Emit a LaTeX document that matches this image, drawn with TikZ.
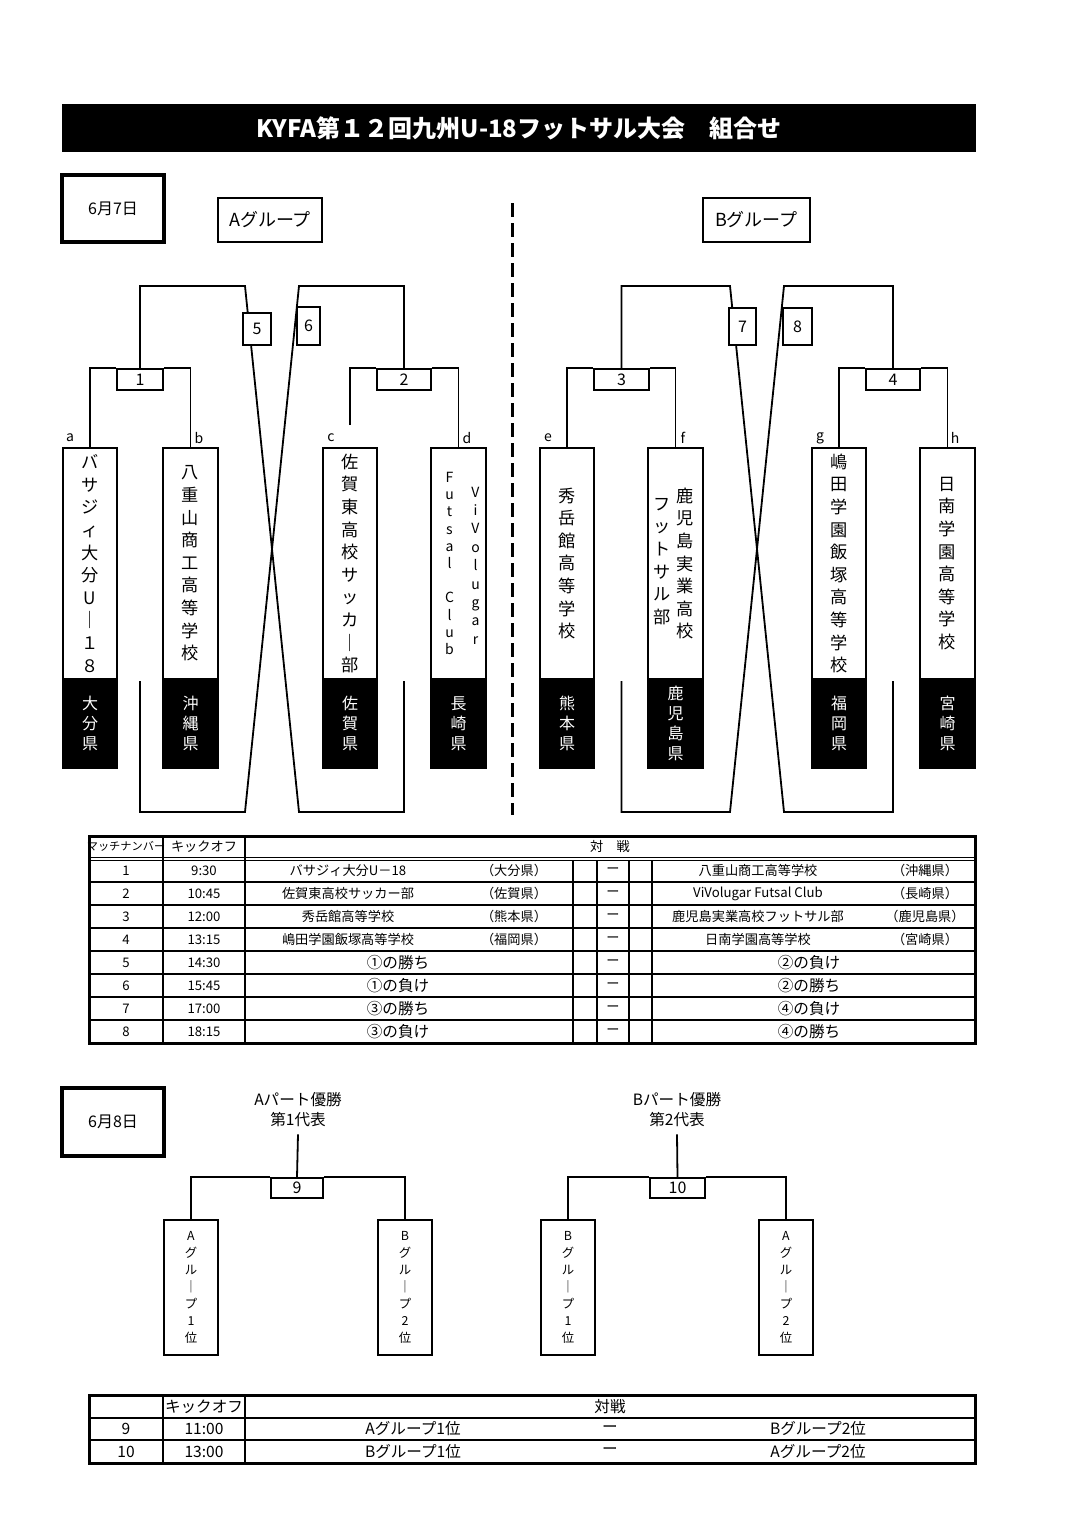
\documentclass[tikz,border=0pt]{standalone}
\usepackage{fontspec}
\setmainfont{Noto Sans CJK JP}
\usetikzlibrary{fit,calc}
\newcommand\bx[6][]{\node[fit={(#3,#4)(#5,#6)},inner sep=0pt,draw,line width=0.8pt,#1] (#2) {};}
\newcommand\fs[2]{\fontsize{#1pt}{#2pt}\selectfont}
\begin{document}
\begin{tikzpicture}[x=0.5pt,y=-0.5pt,
  ln/.style={line width=0.9pt},
  tm/.style={align=center,inner sep=0pt,font=\fs{8.6}{11.3}},
  tmL/.style={align=center,inner sep=0pt,font=\fs{7}{9.2}},
  pf/.style={align=center,inner sep=0pt,text=white,font=\fs{8}{10}},
  lab/.style={inner sep=0pt,font=\fs{7}{8}},
  num/.style={inner sep=0pt,font=\fs{8}{9}},
  tc/.style={inner sep=0pt,font=\fs{6.6}{7}},
  tcb/.style={inner sep=0pt,font=\fs{7.8}{8}},
  sm/.style={align=center,inner sep=0pt,font=\fs{6.2}{8.5}}]
\useasboundingbox (0,0) rectangle (1086,1536);
% title
\bx[fill=black]{title}{63}{105}{975}{151}
\node[text=white,font=\bfseries\fs{12}{13}] at (title) {KYFA第１２回九州U-18フットサル大会　組合せ};
% date / groups
\bx[line width=1.6pt]{d7}{62}{175}{164}{242}
\node[font=\fs{8}{9}] at (d7) {6月7日};
\bx{gA}{218}{198}{322}{242}
\node[font=\fs{9}{10}] at (gA) {Aグループ};
\bx{gB}{703}{198}{810}{242}
\node[font=\fs{9}{10}] at (gB) {Bグループ};
\coordinate (dt) at (512,203); \coordinate (db) at (512,815);
\draw[line width=1.5pt,dash pattern=on 7pt off 3pt] (dt) -- (db);
% team boxes
\foreach \n/\xa/\xb in {a/63/117,b/163/218,c/323/377,d/431/486,e/540/594,f/648/703,g/812/866,h/920/975}{
  \bx{\n}{\xa}{448}{\xb}{768}
  \bx{\n W}{\xa}{448}{\xb}{679}
  \bx[fill=black]{\n P}{\xa}{679}{\xb}{768}
}
\node[tm] at (aW) {バ\\サ\\ジ\\ィ\\大\\分\\U\\｜\\１\\８};
\node[tm] at (bW) {八\\重\\山\\商\\工\\高\\等\\学\\校};
\node[tm] at (cW) {佐\\賀\\東\\高\\校\\サ\\ッ\\カ\\｜\\部};
\node[tmL] at ($(dW)+(17,2)$) {V\\i\\V\\o\\l\\u\\g\\a\\r};
\node[tmL,font=\fs{7}{8.6}] at ($(dW)+(-9,0)$) {F\\u\\t\\s\\a\\l\\\mbox{}\\C\\l\\u\\b};
\node[tm] at (eW) {秀\\岳\\館\\高\\等\\学\\校};
\node[tm] at ($(fW)+(10,0)$) {鹿\\児\\島\\実\\業\\高\\校};
\node[tm] at ($(fW)+(-13,-2)$) {フ\\ッ\\ト\\サ\\ル\\部};
\node[tm] at (gW) {嶋\\田\\学\\園\\飯\\塚\\高\\等\\学\\校};
\node[tm] at (hW) {日\\南\\学\\園\\高\\等\\学\\校};
\node[pf] at (aP) {大\\分\\県};
\node[pf] at (bP) {沖\\縄\\県};
\node[pf] at (cP) {佐\\賀\\県};
\node[pf] at (dP) {長\\崎\\県};
\node[pf] at (eP) {熊\\本\\県};
\node[pf] at (fP) {鹿\\児\\島\\県};
\node[pf] at (gP) {福\\岡\\県};
\node[pf] at (hP) {宮\\崎\\県};
\foreach \n/\x in {a/70,b/199,c/331,d/467,e/548,f/683,g/820,h/955}
  \node[lab] at (\x,438) {\n};
% match boxes
\bx[fill=white]{m1}{117}{369}{163}{390}
\bx[fill=white]{m2}{377}{369}{431}{390}
\bx[fill=white]{m3}{594}{369}{649}{390}
\bx[fill=white]{m4}{866}{369}{920}{390}
\node[num] at (m1) {1}; \node[num] at (m2) {2};
\node[num] at (m3) {3}; \node[num] at (m4) {4};
\draw[ln] (a.north) |- (m1.north west);
\draw[ln] (b.north) |- (m1.north east);
\coordinate (cs) at (350,425);
\draw[ln] (cs) |- (m2.north west);
\draw[ln] (d.north) |- (m2.north east);
\draw[ln] (e.north) |- (m3.north west);
\draw[ln] (f.north) |- (m3.north east);
\draw[ln] (g.north) |- (m4.north west);
\draw[ln] (h.north) |- (m4.north east);
% cross brackets
\draw[ln] (m1.north) |- (245,286) -- (299,812) -| (404,681);
\draw[ln] (m2.north) |- (299,286) -- (245,812) -| (140,681);
\draw[ln] (m3.north) |- (730,286) -- (784,812) -| (893,681);
\draw[ln] (m4.north) |- (784,286) -- (730,812) -| (621.5,681);
\bx[fill=white]{m5}{243}{313}{271}{345} \node[num] at (m5) {5};
\bx[fill=white]{m6}{297}{307}{320}{345} \node[num] at (m6) {6};
\bx[fill=white]{m7}{729}{308}{756}{345} \node[num] at (m7) {7};
\bx[fill=white]{m8}{783}{308}{812}{345} \node[num] at (m8) {8};
% table 1
\draw[line width=0.5pt] (89,857) -- (975,857);
\draw[line width=0.5pt] (89,860) -- (975,860);
\foreach \y in {882,905,928,951,974,997,1020} \draw[line width=0.6pt] (89,\y) -- (975,\y);
\foreach \x in {163,245} \draw[line width=0.6pt] (\x,836) -- (\x,1043);
\foreach \x in {573,597,629,652} \draw[line width=0.6pt] (\x,860) -- (\x,1043);
\draw[line width=1.5pt] (89,836) rectangle (975,1043);
\node[tc,font=\fs{5.6}{6}] at (126,846.5) {マッチナンバー};
\node[tc] at (204,846.5) {キックオフ};
\node[tc] at (610,846.5) {対　戦};
\foreach \k/\t/\l/\lp/\r/\rp in {
  1/9:30/バサジィ大分U－18/（大分県）/八重山商工高等学校/（沖縄県）,
  2/10:45/佐賀東高校サッカー部/（佐賀県）/ViVolugar Futsal Club/（長崎県）,
  3/12:00/秀岳館高等学校/（熊本県）/鹿児島実業高校フットサル部/（鹿児島県）,
  4/13:15/嶋田学園飯塚高等学校/（福岡県）/日南学園高等学校/（宮崎県）}{
  \node[tc] at (126,{870.5+23*(\k-1)}) {\k};
  \node[tc] at (204,{870.5+23*(\k-1)}) {\t};
  \node[tc] at (348,{870.5+23*(\k-1)}) {\l};
  \node[tc] at (514,{870.5+23*(\k-1)}) {\lp};
  \node[tc] at (613,{870.5+23*(\k-1)}) {ー};
  \node[tc] at (758,{870.5+23*(\k-1)}) {\r};
  \node[tc] at (925,{870.5+23*(\k-1)}) {\rp};
}
\foreach \k/\t/\l/\r in {5/14:30/①の勝ち/②の負け,6/15:45/①の負け/②の勝ち,7/17:00/③の勝ち/④の負け,8/18:15/③の負け/④の勝ち}{
  \node[tc] at (126,{870.5+23*(\k-1)}) {\k};
  \node[tc] at (204,{870.5+23*(\k-1)}) {\t};
  \node[tcb] at (398,{870.5+23*(\k-1)}) {\l};
  \node[tc] at (613,{870.5+23*(\k-1)}) {ー};
  \node[tcb] at (809,{870.5+23*(\k-1)}) {\r};
}
% day 2
\bx[line width=1.6pt]{d8}{62}{1088}{164}{1156}
\node[font=\fs{8}{9}] at (d8) {6月8日};
\node[align=center,font=\fs{7.8}{10}] (wA) at (298,1110) {Aパート優勝\\第1代表};
\node[align=center,font=\fs{7.8}{10}] (wB) at (677,1110) {Bパート優勝\\第2代表};
\bx{p1}{164}{1220}{218}{1355}
\bx{p2}{378}{1220}{432}{1355}
\bx{q1}{541}{1220}{595}{1355}
\bx{q2}{759}{1220}{813}{1355}
\bx[fill=white]{m9}{271}{1178}{323}{1198}
\bx[fill=white]{m10}{650}{1178}{705}{1198}
\node[num] at (m9) {9}; \node[num] at (m10) {10};
\draw[ln] (wA.south) -- (m9.north);
\draw[ln] (wB.south) -- (m10.north);
\draw[ln] (p1.north) |- (m9.north west);
\draw[ln] (p2.north) |- (m9.north east);
\draw[ln] (q1.north) |- (m10.north west);
\draw[ln] (q2.north) |- (m10.north east);
\node[sm] at (p1) {A\\グ\\ル\\｜\\プ\\1\\位};
\node[sm] at (p2) {B\\グ\\ル\\｜\\プ\\2\\位};
\node[sm] at (q1) {B\\グ\\ル\\｜\\プ\\1\\位};
\node[sm] at (q2) {A\\グ\\ル\\｜\\プ\\2\\位};
% table 2
\draw[line width=0.6pt] (89,1418) -- (975,1418);
\draw[line width=0.6pt] (89,1440) -- (975,1440);
\foreach \x in {163,245} \draw[line width=0.6pt] (\x,1395) -- (\x,1463);
\draw[line width=1.5pt] (89,1395) rectangle (975,1463);
\node[tcb] at (204,1406.5) {キックオフ};
\node[tcb] at (610,1406.5) {対戦};
\node[tcb] at (126,1429) {9};
\node[tcb] at (204,1429) {11:00};
\node[tcb] at (413,1429) {Aグループ1位};
\node[tcb] at (610,1429) {ー};
\node[tcb] at (818,1429) {Bグループ2位};
\node[tcb] at (126,1451.5) {10};
\node[tcb] at (204,1451.5) {13:00};
\node[tcb] at (413,1451.5) {Bグループ1位};
\node[tcb] at (610,1451.5) {ー};
\node[tcb] at (818,1451.5) {Aグループ2位};
\end{tikzpicture}
\end{document}
